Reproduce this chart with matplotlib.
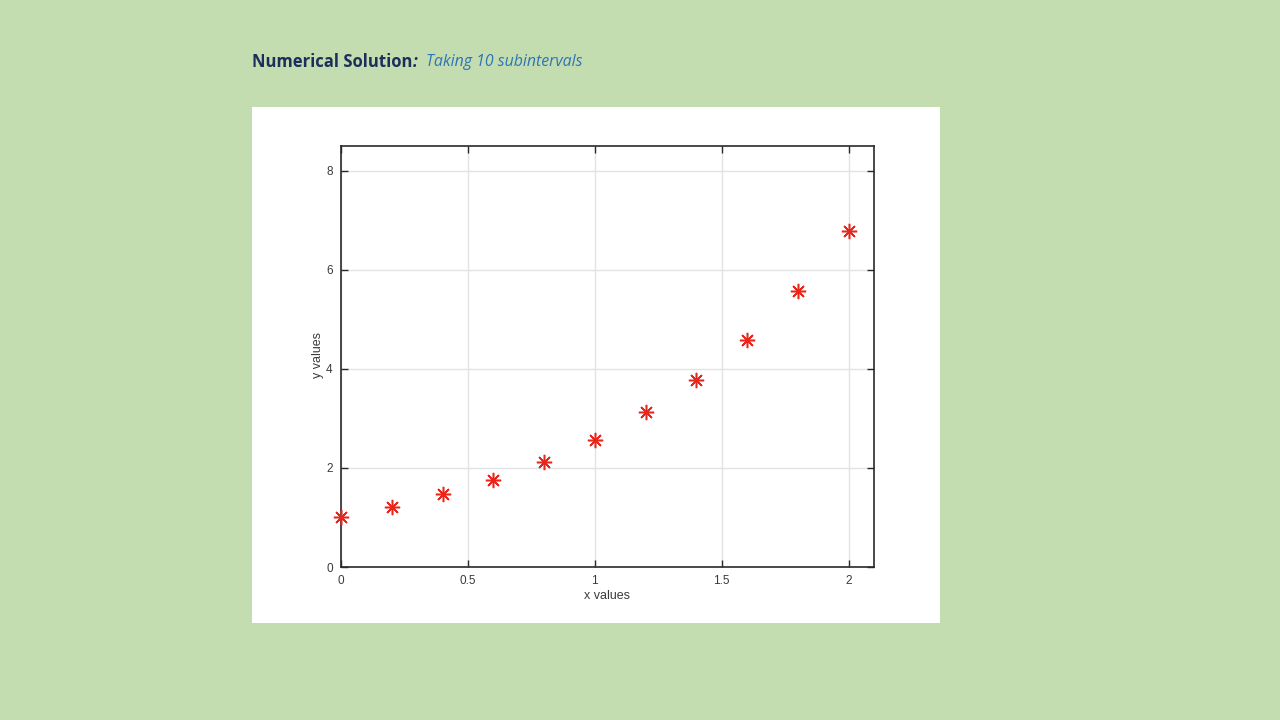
import numpy as np
import matplotlib.pyplot as plt
from matplotlib.patches import Rectangle

# values (10 subintervals on [0, 2])
x_vals = [0.0, 0.2, 0.4, 0.6, 0.8, 1.0, 1.2, 1.4, 1.6, 1.8, 2.0]
y_vals = [1.00, 1.21, 1.47, 1.76, 2.12, 2.57, 3.13, 3.78, 4.59, 5.58, 6.79]

x_ticks = [0, 0.5, 1, 1.5, 2]
x_ticklabels = ['0', '0.5', '1', '1.5', '2']
y_ticks = [0, 2, 4, 6, 8]

bg = '#c3dcb0'
fig = plt.figure(figsize=(12.8, 7.2), dpi=100, facecolor=bg)

# white panel behind the octave figure
fig.patches.append(Rectangle((252 / 1280, 1 - 623 / 720), 688 / 1280, 516 / 720,
                             transform=fig.transFigure, facecolor='white',
                             edgecolor='none', zorder=-5))

# slide heading
ty = 1 - 62 / 720
t1 = fig.text(252 / 1280, ty, 'Numerical Solution', fontsize=12,
              fontweight='bold', color='#1c2f5a', family='Open Sans', va='center')
fig.canvas.draw()
bb = t1.get_window_extent()
t2 = fig.text(bb.x1 / 1280, ty, ':', fontsize=12, fontweight='bold',
              style='italic', color='#1c2f5a', family='Open Sans', va='center')
fig.canvas.draw()
bb = t2.get_window_extent()
fig.text((bb.x1 + 9) / 1280, ty, 'Taking 10 subintervals', fontsize=11.4,
         style='italic', color='#2e75b6', family='Open Sans', va='center')

ax = fig.add_axes([341 / 1280, 1 - 567 / 720, 533 / 1280, 421 / 720])
ax.set_facecolor('white')

ax.plot(x_vals, y_vals, linestyle='none', marker=(8, 2, 0), markersize=11,
        markeredgewidth=1.1, color='#e8261c', clip_on=False, zorder=5)

ax.set_xlim(0, 2.1)
ax.set_ylim(0, 8.5)
ax.set_xticks(x_ticks)
ax.set_xticklabels(x_ticklabels)
ax.set_yticks(y_ticks)
ax.grid(True, color='#e2e2e2', linewidth=1)
ax.set_axisbelow(True)

for s in ax.spines.values():
    s.set_color('#2a2a2a')
    s.set_linewidth(1.2)
ax.tick_params(direction='in', top=True, right=True, length=5, width=1,
               color='#2a2a2a', labelsize=8.5, labelcolor='#3a3a3a', pad=6)
for lbl in ax.get_xticklabels() + ax.get_yticklabels():
    lbl.set_family('Liberation Sans')

ax.set_xlabel('x values', fontsize=9, color='#3a3a3a', family='Liberation Sans', labelpad=2)
ax.set_ylabel('y values', fontsize=9, color='#3a3a3a', family='Liberation Sans',
              va='center')
ax.yaxis.set_label_coords(-0.043, 0.504)

fig.savefig('out.png', dpi=100, facecolor=bg)
